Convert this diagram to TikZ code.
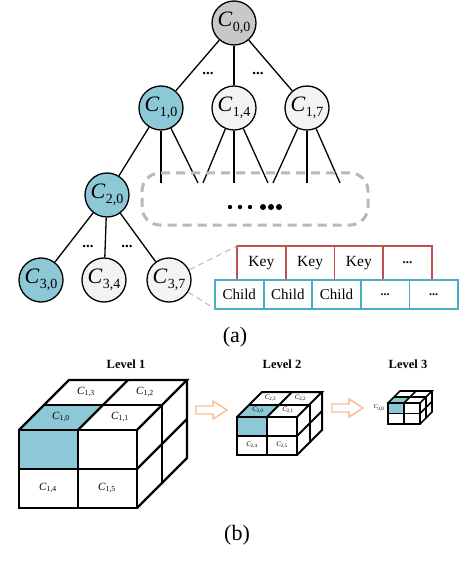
\documentclass[tikz,border=0pt]{standalone}
\usepackage{fontspec}
\setmainfont{Liberation Serif}
\definecolor{nodeblue}{RGB}{140,200,214}
\definecolor{nodegray}{RGB}{200,200,200}
\definecolor{nodewhite}{RGB}{243,243,243}
\definecolor{keyred}{RGB}{192,80,77}
\definecolor{childcyan}{RGB}{75,172,198}
\definecolor{arroworange}{RGB}{246,190,150}
\definecolor{dashgray}{RGB}{185,185,185}

\newcommand\drawcube[6]{% x, y (front top-left), w, h, d, line width
\begin{scope}[shift={(#1,#2)}, line width=#6, line join=miter]
 \fill[nodeblue] (0,0) rectangle (#3/2,#4/2);
 \fill[nodeblue] (0,0) -- (#3/2,0) -- (#3/2+#5/2,-#5/2) -- (#5/2,-#5/2) -- cycle;
 \draw (0,0) rectangle (#3,#4);
 \draw (#3/2,0) -- (#3/2,#4);
 \draw (0,#4/2) -- (#3,#4/2);
 \draw (0,0) -- (#5,-#5) -- (#3+#5,-#5) -- (#3,0);
 \draw (#3/2,0) -- (#3/2+#5,-#5);
 \draw (#5/2,-#5/2) -- (#3+#5/2,-#5/2);
 \draw (#3+#5,-#5) -- (#3+#5,#4-#5) -- (#3,#4);
 \draw (#3+#5/2,-#5/2) -- (#3+#5/2,#4-#5/2);
 \draw (#3,#4/2) -- (#3+#5,#4/2-#5);
\end{scope}}

\newcommand\hollowarrow[3]{% x start, y, length
\draw[arroworange, line width=1.4pt, line join=miter]
  (#1,#2-4) -- (#1+#3*0.55,#2-4) -- (#1+#3*0.55,#2-9) -- (#1+#3,#2)
  -- (#1+#3*0.55,#2+9) -- (#1+#3*0.55,#2+4) -- (#1,#2+4) -- cycle;}

\newcommand\tn[1]{\textit{C}\kern0.3pt\raisebox{-5pt}{\fontsize{14}{14}\selectfont #1}}

\begin{document}
\begin{tikzpicture}[x=1pt,y=-1pt,
  treenode/.style={circle, draw, line width=1.3pt, minimum size=44pt, inner sep=0pt,
    font=\fontsize{22}{24}\selectfont},
  bluenode/.style={treenode, fill=nodeblue},
  whitenode/.style={treenode, fill=nodewhite},
  graynode/.style={treenode, fill=nodegray},
  treeedge/.style={line width=1.3pt},
  dotsnode/.style={inner sep=0pt, font=\fontsize{15}{15}\selectfont\bfseries},
  keycell/.style={draw=keyred, line width=1.8pt, minimum width=48.75pt, minimum height=34pt,
    inner sep=0pt, outer sep=0pt, font=\fontsize{15.5}{16}\selectfont},
  childcell/.style={draw=childcyan, line width=1.8pt, minimum width=48.6pt, minimum height=29pt,
    inner sep=0pt, outer sep=0pt, font=\fontsize{15}{16}\selectfont},
  levellabel/.style={inner sep=0pt, font=\fontsize{12.5}{14}\selectfont\bfseries},
  caption/.style={inner sep=0pt, font=\fontsize{22}{24}\selectfont},
  cubelabA/.style={inner sep=0pt, font=\fontsize{11}{12}\selectfont},
  cubelabB/.style={inner sep=0pt, font=\fontsize{7}{8}\selectfont},
  cubelabC/.style={inner sep=0pt, font=\fontsize{6}{7}\selectfont},
  connector/.style={dashgray, line width=1pt, dash pattern=on 6pt off 4pt}
]
\useasboundingbox (0,0) rectangle (474,561);

% ---------- (a) tree ----------
\node[graynode]  (C00) at (234,23)  {\tn{0,0}};
\node[bluenode]  (C10) at (161,108) {\tn{1,0}};
\node[whitenode] (C14) at (234,108) {\tn{1,4}};
\node[whitenode] (C17) at (307,108) {\tn{1,7}};
\node[bluenode]  (C20) at (107,195) {\tn{2,0}};
\node[bluenode]  (C30) at (41,280)  {\tn{3,0}};
\node[whitenode] (C34) at (104,280) {\tn{3,4}};
\node[whitenode] (C37) at (169,280) {\tn{3,7}};

\coordinate (e1) at (161,183);
\coordinate (e2) at (198,183);
\coordinate (e3) at (203,183);
\coordinate (e4) at (234,183);
\coordinate (e5) at (268,183);
\coordinate (e6) at (273,183);
\coordinate (e7) at (307,183);
\coordinate (e8) at (340,183);

\draw[treeedge] (C00) -- (C10);
\draw[treeedge] (C00) -- (C14);
\draw[treeedge] (C00) -- (C17);
\draw[treeedge] (C10) -- (C20);
\draw[treeedge] (C10) -- (e1);
\draw[treeedge] (C10) -- (e2);
\draw[treeedge] (C14) -- (e3);
\draw[treeedge] (C14) -- (e4);
\draw[treeedge] (C14) -- (e5);
\draw[treeedge] (C17) -- (e6);
\draw[treeedge] (C17) -- (e7);
\draw[treeedge] (C17) -- (e8);
\draw[treeedge] (C20) -- (C30);
\draw[treeedge] (C20) -- (C34);
\draw[treeedge] (C20) -- (C37);

\node[dotsnode] (d1) at (208,73) {...};
\node[dotsnode] (d2) at (258,73) {...};
\node[dotsnode] (d3) at (88,246) {...};
\node[dotsnode] (d4) at (127,246) {...};

% dashed group box
\node[draw=dashgray, line width=3pt, dash pattern=on 9pt off 6pt, rounded corners=18pt,
  minimum width=226pt, minimum height=52pt] (grp) at (255,199) {};
\foreach \xx in {230,240,250} \fill (\xx,207) circle (2.2pt);
\foreach \xx in {263,271,279} \fill (\xx,207) circle (3pt);

% key / child rows
\node[keycell] (k1) at (261.4,263) {Key};
\node[keycell] (k2) at (310.1,263) {Key};
\node[keycell] (k3) at (358.9,263) {Key};
\node[keycell, font=\fontsize{13}{13}\selectfont\bfseries] (k4) at (407.6,263) {...};
\node[childcell] (c1) at (239.3,294.5) {Child};
\node[childcell] (c2) at (287.9,294.5) {Child};
\node[childcell] (c3) at (336.5,294.5) {Child};
\node[childcell, font=\fontsize{12}{12}\selectfont\bfseries] (c4) at (385.1,294.5) {...};
\node[childcell, font=\fontsize{12}{12}\selectfont\bfseries] (c5) at (433.7,294.5) {...};

\draw[connector] (C37) -- (k1.north west);
\draw[connector] (C37) -- (c1.south west);

\node[caption] (capa) at (235,337) {(a)};

% ---------- (b) cubes ----------
\node[levellabel] (L1) at (126,364) {Level 1};
\node[levellabel] (L2) at (282,364) {Level 2};
\node[levellabel] (L3) at (408,364) {Level 3};

\drawcube{19}{430}{118}{78}{50}{2.3pt}
\node[cubelabA] (l13) at (86,392)  {\textit{C}\textsubscript{1,3}};
\node[cubelabA] (l12) at (145,392) {\textit{C}\textsubscript{1,2}};
\node[cubelabA] (l10) at (61,417)  {\textit{C}\textsubscript{1,0}};
\node[cubelabA] (l11) at (120,417) {\textit{C}\textsubscript{1,1}};
\node[cubelabA] (l14) at (48,488)  {\textit{C}\textsubscript{1,4}};
\node[cubelabA] (l15) at (107,488) {\textit{C}\textsubscript{1,5}};

\hollowarrow{196}{410}{31}

\drawcube{237}{417}{60}{38}{25}{2pt}
\node[cubelabB] (l23) at (270.5,398.5) {\textit{C}\textsubscript{2,3}};
\node[cubelabB] (l22) at (300.5,398.5) {\textit{C}\textsubscript{2,2}};
\node[cubelabB] (l20) at (258,410.5)   {\textit{C}\textsubscript{2,0}};
\node[cubelabB] (l21) at (288,410.5)   {\textit{C}\textsubscript{2,1}};
\node[cubelabB] (l24) at (252,445.5)   {\textit{C}\textsubscript{2,4}};
\node[cubelabB] (l25) at (282,445.5)   {\textit{C}\textsubscript{2,5}};

\hollowarrow{332}{408}{31}

\drawcube{388}{403}{32}{21}{12}{1.6pt}
\node[cubelabC] (l30) at (379,408) {\textit{C}\textsubscript{3,0}};

\node[caption] (capb) at (237,535) {(b)};
\end{tikzpicture}
\end{document}
